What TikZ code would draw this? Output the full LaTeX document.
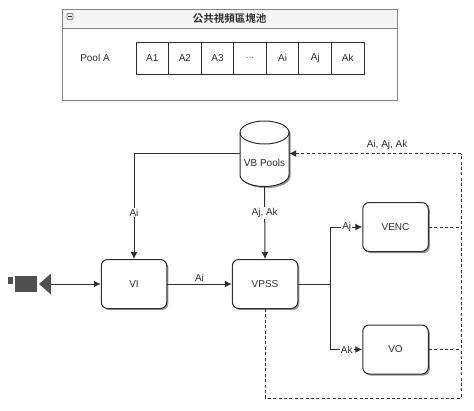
\documentclass[tikz,border=0pt]{standalone}
\usepackage{fontspec}
\setmainfont{Liberation Sans}
\newfontfamily\cjk{Noto Sans CJK TC}[BoldFont={* Bold}]
\usetikzlibrary{arrows.meta,shadows,calc}
\definecolor{ink}{HTML}{2E2E2E}
\definecolor{frameg}{HTML}{858585}
\definecolor{camg}{HTML}{505050}
\tikzset{
 x=1pt,y=-1pt,
 lbl/.style={font=\fontsize{10}{12}\selectfont,text=ink,inner sep=1pt},
 edgelbl/.style={lbl,fill=white},
 softshadow/.style={drop shadow={shadow xshift=1.6pt,shadow yshift=-1.6pt,fill=black!55,opacity=.75}},
 unit/.style={draw=ink,line width=1pt,rounded corners=6.5pt,fill=white,minimum width=65.5pt,minimum height=49pt,inner sep=0pt,lbl,softshadow},
 cell/.style={draw=ink,line width=1pt,minimum width=32.6pt,minimum height=32pt,inner sep=0pt,lbl},
 flowtip/.tip={Latex[length=7pt,width=7pt]},
 flow/.style={draw=ink,line width=1pt,-flowtip},
 flowdash/.style={draw=ink,line width=1pt,dash pattern=on 3pt off 2.4pt},
}
\begin{document}
\begin{tikzpicture}
\useasboundingbox (0,0) rectangle (474,410);
% pool panel
\node[draw=frameg,line width=1pt,minimum width=335pt,minimum height=91pt,inner sep=0pt] (panel) at (229.5,54.5) {};
\node[draw=frameg,fill=black!4,line width=1pt,minimum width=335pt,minimum height=19pt,inner sep=0pt,
  font=\cjk\bfseries\fontsize{10.5}{12}\selectfont,text=ink] (head) at (229.5,18.5) {公共視頻區塊池};
\node[draw=frameg,fill=black!8,line width=0.8pt,rounded corners=1pt,minimum width=6pt,minimum height=6pt,inner sep=0pt] (fold) at (70,16.5) {};
\draw[ink,line width=0.7pt] ($(fold.center)+(-2,0)$) -- ($(fold.center)+(2,0)$);
\node[lbl] (poolname) at (95,58) {Pool A};
\node[cell] (c1) at (152.3,58) {A1};
\node[cell] (c2) at (184.9,58) {A2};
\node[cell] (c3) at (217.5,58) {A3};
\node[cell] (c4) at (250,58) {\textcolor{gray}{...}};
\node[cell] (c5) at (282.6,58) {Ai};
\node[cell] (c6) at (315.2,58) {Aj};
\node[cell] (c7) at (347.8,58) {Ak};
% units
\node[unit] (vi) at (134,284) {VI};
\node[unit] (vpss) at (265,284) {VPSS};
\node[unit] (venc) at (395.5,227) {VENC};
\node[unit] (vo) at (395.5,349.5) {VO};
% database drum
\path[draw=ink,line width=1pt,fill=white,softshadow]
  (240,132.5) arc[start angle=180,end angle=0,x radius=24.5pt,y radius=11.5pt]
  -- (289,175) arc[start angle=0,end angle=-180,x radius=24.5pt,y radius=11.5pt] -- cycle;
\draw[ink,line width=1pt] (240,132.5) arc[start angle=180,end angle=360,x radius=24.5pt,y radius=11.5pt];
\node[minimum width=49pt,minimum height=65pt,inner sep=0pt] (vb) at (264.5,153.5) {};
\node[lbl] (vbt) at (264.5,163) {VB Pools};
% camera
\node[fill=camg,minimum width=5pt,minimum height=7pt,inner sep=0pt] (camb) at (10.5,280) {};
\node[fill=camg,minimum width=22pt,minimum height=16pt,inner sep=0pt] (cam) at (26,284) {};
\coordinate (l1) at (51,273.5);\coordinate (l2) at (51,294.5);\coordinate (l3) at (39,284);\coordinate (lens) at (51,284);
\fill[camg] (l1) -- (l2) -- (l3) -- cycle;
% connectors
\coordinate (vbl) at (vi.north |- vb.west);
\draw[flow] (vb.west) -- (vbl) -- node[edgelbl,pos=.56]{Ai} (vi.north);
\draw[flow] (vb.south) -- node[edgelbl,pos=.37]{Aj, Ak} (vpss.north);
\draw[flow] (lens) -- (vi.west);
\draw[flow] (vi.east) -- node[lbl,above=1pt]{Ai} (vpss.west);
\coordinate (split) at (330,284);
\draw[flow] (vpss.east) -- (split) |- node[edgelbl,pos=.76]{Aj} (venc.west);
\draw[flow] (split) |- node[edgelbl,pos=.76]{Ak} (vo.west);
% dashed returns
\coordinate (rt) at (461,153.5);\coordinate (rb) at (461,398);
\coordinate (lb) at (vpss.south |- rb);
\draw[flowdash] (vpss.south) -- (lb) -- (rb) -- (rt);
\draw[flowdash,-flowtip] (rt) -- node[lbl,above=2pt,pos=.43]{Ai, Aj, Ak} (vb.east);
\draw[flowdash] (venc.east) -- (venc.east -| rt);
\draw[flowdash] (vo.east) -- (vo.east -| rt);
\end{tikzpicture}
\end{document}
